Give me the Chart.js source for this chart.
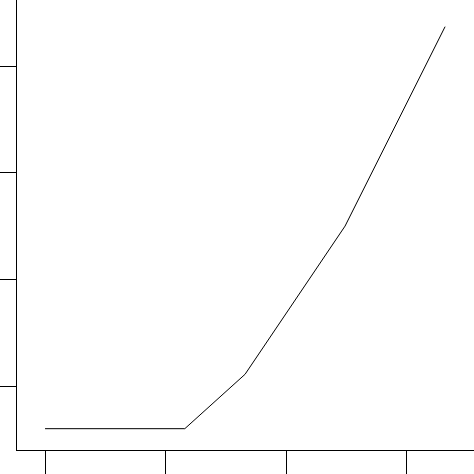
<!DOCTYPE html>
<html><head><script src="https://cdn.jsdelivr.net/npm/chart.js@4"></script>
<style>html,body{margin:0;padding:0;background:#fff}</style></head>
<body><canvas id="c" width="474" height="474"></canvas>
<script>
const xValues = [0, 1.16, 1.66, 2.49, 3.32];
const yValues = [0.6, 0.6, 1.11, 2.50, 4.37];
const xTicks = [0, 1, 2, 3];
const yTicks = [1, 2, 3, 4];
new Chart(document.getElementById('c'), {
  type: 'line',
  data: { datasets: [{ data: xValues.map((x, i) => ({x, y: yValues[i]})), borderColor: '#000', borderWidth: 1, pointRadius: 0, fill: false, tension: 0 }] },
  options: {
    responsive: false, devicePixelRatio: 1, animation: false,
    layout: { padding: 0 },
    plugins: { legend: { display: false }, tooltip: { enabled: false } },
    scales: {
      x: { type: 'linear', min: -0.241, max: 3.56,
        afterBuildTicks: s => { s.ticks = xTicks.map(v => ({value: v})); },
        ticks: { display: false },
        grid: { drawOnChartArea: false, tickLength: 24, color: '#000', tickColor: '#000' },
        border: { color: '#000', width: 1 } },
      y: { type: 'linear', min: 0.4, max: 4.62,
        afterBuildTicks: s => { s.ticks = yTicks.map(v => ({value: v})); },
        ticks: { display: false },
        grid: { drawOnChartArea: false, tickLength: 16, color: '#000', tickColor: '#000' },
        border: { color: '#000', width: 1 } }
    }
  }
});
</script></body></html>
